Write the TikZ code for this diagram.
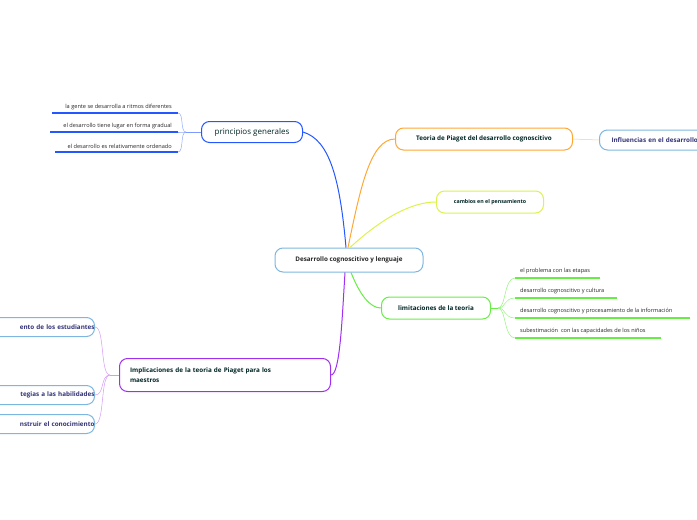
\documentclass[tikz,border=0pt]{standalone}
\usepackage{fontspec}
\setmainfont{Open Sans}
\begin{document}
\begin{tikzpicture}[x=1pt,y=-1pt,
  box/.style={draw=#1,line width=1pt,rounded corners=8pt,fill=white,font=\bfseries\fontsize{6.3}{8}\selectfont,text=black!70!teal,inner sep=0pt},
  sub/.style={box=cb,minimum height=19,anchor=east,text width=118,align=right,text=black!55!blue!60!gray},
  leaf/.style={font=\fontsize{5.6}{6}\selectfont,text=black!85,inner sep=1pt,anchor=south west},
  con/.style={draw=#1,line width=1pt},
  thin/.style={draw=#1,line width=0.5pt}]
\useasboundingbox (0,0) rectangle (697,520);
\clip (0,0) rectangle (697,520);
\definecolor{cb}{HTML}{7DB7E0}\definecolor{bl}{HTML}{2457FF}\definecolor{or}{HTML}{FFA733}
\definecolor{yl}{HTML}{DDF24A}\definecolor{gr}{HTML}{66EE44}\definecolor{pu}{HTML}{A030F0}
\definecolor{lpu}{HTML}{D69AF5}
\node[box=cb,minimum width=148,minimum height=24,text=black!85] (c) at (349,260) {Desarrollo cognoscitivo y lenguaje};
\node[box=bl,minimum width=101,minimum height=21,font=\fontsize{8}{9}\selectfont] (p) at (252,132) {principios generales};
\node[box=or,minimum width=177,minimum height=22] (t) at (484,139) {Teoria de Piaget del desarrollo cognoscitivo};
\node[box=cb,minimum height=20,anchor=west,text width=160,align=left,text=black!55!blue!60!gray] (inf) at (599,140) {\hspace{12pt}Influencias en el desarrollo};
\node[box=yl,minimum width=107,minimum height=22,font=\bfseries\fontsize{5.3}{6}\selectfont] (cam) at (490,202) {cambios en el pensamiento};
\node[box=gr,minimum width=109,minimum height=22] (l) at (436,308) {limitaciones de la teoria};
\node[box=pu,minimum width=211,minimum height=33,align=left,text width=190] (im) at (225,375) {Implicaciones de la teoria de Piaget para los\\[2pt] maestros};
\node[sub] (a1) at (95,327) {ento de los estudiantes\hspace{12pt}};
\node[sub] (a2) at (95,395) {tegias a las habilidades\hspace{12pt}};
\node[sub] (a3) at (95,424) {nstruir el conocimiento\hspace{12pt}};
\draw[con=bl] (c.north) ++(-3,0) .. controls (340,180) and (330,140) .. (p.east);
\draw[con=or] (c.north) ++(-1,0) .. controls (360,190) and (370,139) .. (t.west);
\draw[con=yl] (c.north) ++(1,0) .. controls (380,220) and (410,202) .. (cam.west);
\draw[con=gr] (c.south) ++(2,0) .. controls (360,295) and (370,308) .. (l.west);
\draw[con=pu] (c.south) ++(-4,0) .. controls (342,320) and (340,375) .. (im.east);
\draw[thin=or!60] (t.east) -- (inf.west);
\coordinate (pj) at (186,132);
\draw[thin=bl!60] (p.west) -- (pj);
\foreach \y/\x/\txt in {113/52/{la gente se desarrolla a ritmos diferentes},132/50/{el desarrollo tiene lugar en forma gradual},152/55/{el desarrollo es relativamente ordenado}}{
  \draw[line width=1.2pt,draw=bl] (\x,\y) -- (178,\y);
  \node[leaf,anchor=south east] at (173,\y-2) {\txt};
  \draw[thin=bl!50] (pj) .. controls (180,132) and (184,\y) .. (178,\y);
}
\coordinate (gj) at (498,308);
\draw[thin=gr] (l.east) -- (gj);
\foreach \y/\x/\txt in {278/600/{el problema con las etapas},298/617/{desarrollo cognoscitivo y cultura},318/690/{desarrollo cognoscitivo y procesamiento de la información},338/661/{subestimación\ \ con las capacidades de los niños}}{
  \draw[line width=1.2pt,draw=gr] (515,\y) -- (\x,\y);
  \node[leaf] at (519,\y-3) {\txt};
  \draw[thin=gr!70] (gj) .. controls (506,308) and (504,\y) .. (515,\y);
}
\coordinate (uj) at (110,375);
\draw[thin=lpu] (im.west) -- (uj);
\foreach \n in {a1,a2,a3}{
  \draw[thin=lpu] (uj) .. controls (100,375) and (105,0|-\n.east) .. (\n.east);
}
\end{tikzpicture}
\end{document}
